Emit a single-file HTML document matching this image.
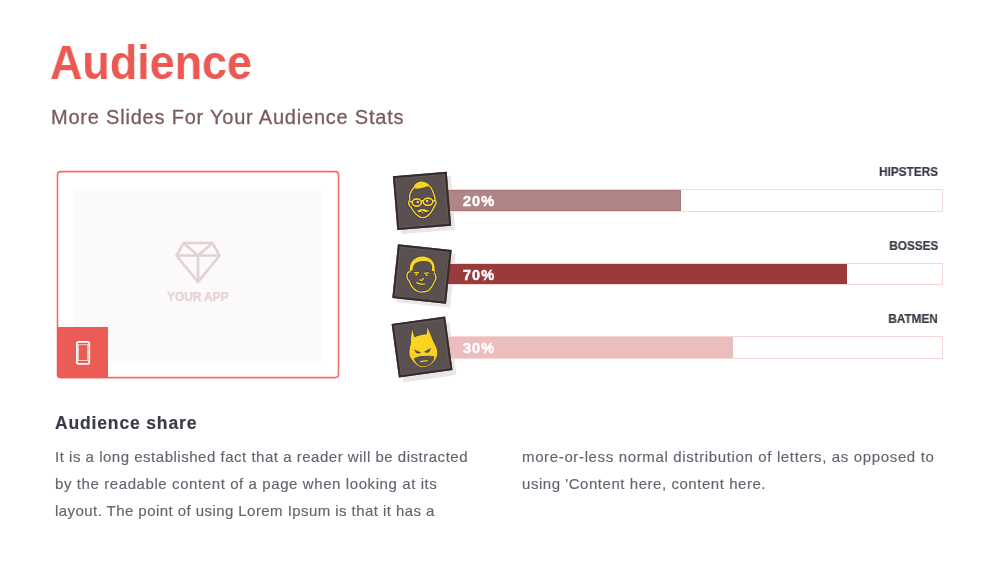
<!DOCTYPE html>
<html><head><meta charset="utf-8">
<style>
html,body{margin:0;padding:0;background:#fff;}
body{width:1000px;height:563px;position:relative;overflow:hidden;font-family:"Liberation Sans",sans-serif;}
.t,.p,.lbl,.pct{will-change:transform;}
.t{position:absolute;white-space:nowrap;line-height:1;}
#title{left:50px;top:37.8px;font-size:48.5px;font-weight:bold;color:#ec5952;transform:scaleX(0.925);transform-origin:0 0;}
#sub{left:51px;top:106.5px;font-size:20px;color:#7a5c5b;letter-spacing:0.79px;-webkit-text-stroke:0.3px #7a5c5b;}
#frame{position:absolute;left:57px;top:171px;width:279px;height:204px;border:1.5px solid #ee6b67;border-radius:3px;}
#inner{position:absolute;left:74px;top:189px;width:247.5px;height:171.5px;background:#fbf9f9;}
#redsq{position:absolute;left:57px;top:327px;width:51px;height:51px;background:#eb5c57;border-bottom-left-radius:3px;}
#yourapp{left:166.9px;top:291px;font-size:12px;font-weight:bold;color:#e5d2d2;letter-spacing:-0.1px;-webkit-text-stroke:0.25px #e5d2d2;}
.lbl{position:absolute;font-size:12.8px;font-weight:bold;color:#363a45;-webkit-text-stroke:0.2px #363a45;white-space:nowrap;line-height:1;right:62px;transform:scaleX(0.92);transform-origin:100% 0;}
.bar{position:absolute;left:440px;width:500.6px;height:20.5px;border:1px solid #f6d6d6;background:#fff;}
.fill{position:absolute;left:0;top:0;bottom:0;}
.pct{position:absolute;left:462.8px;font-size:14.5px;font-weight:bold;color:#fff;letter-spacing:1.0px;-webkit-text-stroke:0.45px #fff;line-height:1;white-space:nowrap;}
.av{position:absolute;width:49.5px;height:49.5px;background:#5b5050;border:2px solid #342c2c;box-shadow:inset 0 0 0 1px #655a5a;}
.sh{position:absolute;width:53.5px;height:53.5px;background:#ebe5e5;}
.face{position:absolute;overflow:visible;}
.face .o *{fill:none;stroke:#2d2a55;stroke-width:2.5;}
.face .o .f{fill:#2d2a55;stroke-width:0.8;}
.face .y *{fill:none;stroke:#f9d41e;stroke-width:1.45;}
.face .y .f{fill:#f9d41e;stroke:none;}
.face .y .g{stroke-width:1.7;}
.face .o .g{stroke-width:2.7;}
#h2{left:55px;top:415px;font-size:17.5px;font-weight:bold;color:#393d47;-webkit-text-stroke:0.2px #393d47;letter-spacing:0.85px;}
.p{position:absolute;font-size:15px;color:#62656f;-webkit-text-stroke:0.15px #62656f;white-space:nowrap;line-height:1;letter-spacing:0.5px;}
</style></head><body>
<div id="title" class="t">Audience</div>
<div id="sub" class="t">More Slides For Your Audience Stats</div>

<svg style="position:absolute;left:0;top:0" width="400" height="400"><rect x="57.5" y="171.6" width="281" height="206" rx="3" fill="none" stroke="#ef6e6a" stroke-width="1.6"/></svg>
<div id="inner"></div>
<svg style="position:absolute;left:170px;top:236px" width="56" height="52" viewBox="0 0 56 52">
  <g fill="none" stroke="#e4d1d1" stroke-width="2.6" stroke-linejoin="miter">
    <path d="M13.5 7 L42.5 7 L49.5 19.5 L28 46 L6.5 19.5 Z"/>
    <path d="M6.5 19.5 L49.5 19.5"/>
    <path d="M13.5 7 L28 19.5 L42.5 7"/>
    <path d="M28 19.5 L28 46"/>
  </g>
</svg>
<div id="yourapp" class="t">YOUR APP</div>
<div id="redsq"></div>
<svg style="position:absolute;left:74px;top:339px" width="18" height="27" viewBox="0 0 18 27">
  <rect x="2.9" y="2.9" width="12.3" height="22" rx="1.6" fill="none" stroke="#fff" stroke-width="1.8"/>
  <rect x="4.4" y="5.7" width="9.3" height="15.9" fill="none" stroke="#fff" stroke-opacity="0.8" stroke-width="0.8"/>
</svg>

<div class="lbl" style="top:166px">HIPSTERS</div>
<div class="lbl" style="top:239.5px">BOSSES</div>
<div class="lbl" style="top:313px">BATMEN</div>

<div class="sh" style="left:399px;top:178px;transform:rotate(-4.7deg)"></div>
<div class="sh" style="left:399px;top:251px;transform:rotate(6deg)"></div>
<div class="sh" style="left:399px;top:324.5px;transform:rotate(-7.8deg)"></div>
<div class="bar" style="top:189px"><div class="fill" style="width:240px;background:#b08585;box-shadow:inset 0 0 0 1px #a67474"></div></div>
<div class="bar" style="top:262.5px"><div class="fill" style="width:406px;background:#9a3a3a"></div></div>
<div class="bar" style="top:336px"><div class="fill" style="width:292px;background:#ebbdbd"></div></div>

<div class="pct" style="top:194.1px">20%</div>
<div class="pct" style="top:267.6px">70%</div>
<div class="pct" style="top:341.1px">30%</div>

<!-- avatars -->
<div class="av" style="left:394.85px;top:173.65px;transform:rotate(-4.7deg)"></div>
<svg class="face" style="left:396.6px;top:175.4px" width="50" height="50" viewBox="0 0 50 50">
 <g class="o">
  <path class="f" d="M16.6 12.8 C16.6 11.3 17.5 9.5 18.9 8.5 C20.5 7.3 22 6.7 23.5 6.5 C25 6.3 26.5 6.8 28.7 7.4 C30 7.8 31.2 8.6 31.9 9.5 C32.6 10.3 33.1 11 33.2 11.8 C31 11.5 29.5 11.6 28.7 11.9 C27 12.3 25.5 12.8 24.8 13 C23 13.5 21.5 13.9 20.1 13.8 C18.8 13.7 17.6 13.3 16.6 12.8 Z"/>
  <path d="M17 12.6 C15.8 13.7 14.8 15 14.3 16.3 C13.5 17.8 12.9 19 12.7 20.2 C12.5 22 12.6 23.5 12.7 25.3 C11.8 25.8 11.6 27 11.7 28.3 C11.8 30 12.6 31.6 14.2 32.2 C15 34 15.8 35.5 16.9 36.7 C18.2 38.5 19.6 40 21.2 40.9 C22.6 41.9 24 42.6 25.5 42.6 C27.5 42.6 29.2 41.9 30.6 40.9 C32.5 39.5 33.8 38 34.8 36.2 C35.8 34.5 36.7 32.8 37.4 31.1 C38.4 30.3 39.1 29 39.1 27.7 C39.1 26.5 38.9 25.6 38.1 25 C38 22.5 37.6 21 36.9 19.4 C36.3 17.6 35.7 16.2 35.2 15 C34.5 13.5 33.8 12.4 33 11.5"/>
  <ellipse class="g" cx="19.8" cy="27.5" rx="4.6" ry="3.6"/>
  <ellipse class="g" cx="31" cy="26.7" rx="4.8" ry="3.6"/>
  <path d="M24.3 26.4 Q25.2 25.2 26.3 26 M15.3 27 L12.8 26.6 M35.8 26.2 L38.3 25.8 M25.6 36.7 L25.6 38"/>
  <path class="f" d="M19.5 35.3 C20.3 36.9 22 37.5 23.5 36.9 C24.5 36.5 25 36 25.7 35.6 C26.5 36 27 36.5 28 36.9 C29.5 37.4 31.5 36.9 32.3 35 C31.3 35.5 30 35.4 29 34.7 C28 33.9 26.8 33.6 25.7 34.3 C24.6 33.6 23.4 33.9 22.4 34.7 C21.4 35.4 20.4 35.6 19.5 35.3 Z"/>
 </g>
 <g class="y">
  <path class="f" d="M16.6 12.8 C16.6 11.3 17.5 9.5 18.9 8.5 C20.5 7.3 22 6.7 23.5 6.5 C25 6.3 26.5 6.8 28.7 7.4 C30 7.8 31.2 8.6 31.9 9.5 C32.6 10.3 33.1 11 33.2 11.8 C31 11.5 29.5 11.6 28.7 11.9 C27 12.3 25.5 12.8 24.8 13 C23 13.5 21.5 13.9 20.1 13.8 C18.8 13.7 17.6 13.3 16.6 12.8 Z"/>
  <path d="M17 12.6 C15.8 13.7 14.8 15 14.3 16.3 C13.5 17.8 12.9 19 12.7 20.2 C12.5 22 12.6 23.5 12.7 25.3 C11.8 25.8 11.6 27 11.7 28.3 C11.8 30 12.6 31.6 14.2 32.2 C15 34 15.8 35.5 16.9 36.7 C18.2 38.5 19.6 40 21.2 40.9 C22.6 41.9 24 42.6 25.5 42.6 C27.5 42.6 29.2 41.9 30.6 40.9 C32.5 39.5 33.8 38 34.8 36.2 C35.8 34.5 36.7 32.8 37.4 31.1 C38.4 30.3 39.1 29 39.1 27.7 C39.1 26.5 38.9 25.6 38.1 25 C38 22.5 37.6 21 36.9 19.4 C36.3 17.6 35.7 16.2 35.2 15 C34.5 13.5 33.8 12.4 33 11.5"/>
  <ellipse class="g" cx="19.8" cy="27.5" rx="4.6" ry="3.6"/>
  <ellipse class="g" cx="31" cy="26.7" rx="4.8" ry="3.6"/>
  <path d="M24.3 26.4 Q25.2 25.2 26.3 26 M15.3 27 L12.8 26.6 M35.8 26.2 L38.3 25.8 M25.6 36.7 L25.6 38"/>
  <path class="f" d="M19.5 35.3 C20.3 36.9 22 37.5 23.5 36.9 C24.5 36.5 25 36 25.7 35.6 C26.5 36 27 36.5 28 36.9 C29.5 37.4 31.5 36.9 32.3 35 C31.3 35.5 30 35.4 29 34.7 C28 33.9 26.8 33.6 25.7 34.3 C24.6 33.6 23.4 33.9 22.4 34.7 C21.4 35.4 20.4 35.6 19.5 35.3 Z"/>
  <circle class="f" cx="20.8" cy="26.9" r="1.25"/><circle class="f" cx="30.1" cy="26" r="1.25"/>
 </g>
</svg>

<div class="av" style="left:395.15px;top:246.95px;transform:rotate(6deg)"></div>
<svg class="face" style="left:396.9px;top:248.7px" width="50" height="50" viewBox="0 0 50 50">
 <g class="o">
  <path class="f" d="M12.8 23 C12.5 20 12.8 17 13.6 15 C14.8 12 16.5 10.2 18.3 9.5 C20.5 8.2 23 7.6 25.3 7.6 C28 7.6 30.5 8.3 32.3 9.2 C34.8 10.8 36.5 12.8 37 15 C37.7 17.5 37.9 20 37.8 23 C36.8 22.5 35.5 22 34.7 21.5 C35 19.5 35.2 18 35 17 C34.2 15 33.5 14 32.3 13.1 C30.5 12.2 28.3 11.8 26.1 11.9 C23.5 12 21.5 12.5 19.8 13.5 C18 14.5 16.8 15.8 16.3 17.4 C15.9 18.6 15.7 20 15.5 21.3 C14.5 21.7 13.5 22.3 12.8 23 Z"/>
  <path d="M13 22.5 C11.5 23 10.6 23.5 10.4 24.4 C10 25.5 9.9 27 10.1 28.3 C10.3 29.8 11 31 12 31.4 C13 34 13.8 36 15.1 37.7 C17 40.5 20 43.1 23.7 43.1 C26.5 43.1 29.5 42.5 31.5 41.6 C33.5 40 35 38 36.2 35.3 C36.8 33.5 37.5 32 38.6 30.6 C38.9 29.5 39 28 38.6 26.7 C38.3 25.3 37.8 24.2 37 23.6"/>
  <path d="M17.1 23.9 Q19.5 23 21.8 24 M27.2 24.5 Q29.8 23.5 32.3 24.1 M22.6 30.3 Q23.5 31.8 24.8 31.2 Q26 30.5 26.5 29.1 M19.4 33.4 Q23 36.2 28 34.9"/>
 </g>
 <g class="y">
  <path class="f" d="M12.8 23 C12.5 20 12.8 17 13.6 15 C14.8 12 16.5 10.2 18.3 9.5 C20.5 8.2 23 7.6 25.3 7.6 C28 7.6 30.5 8.3 32.3 9.2 C34.8 10.8 36.5 12.8 37 15 C37.7 17.5 37.9 20 37.8 23 C36.8 22.5 35.5 22 34.7 21.5 C35 19.5 35.2 18 35 17 C34.2 15 33.5 14 32.3 13.1 C30.5 12.2 28.3 11.8 26.1 11.9 C23.5 12 21.5 12.5 19.8 13.5 C18 14.5 16.8 15.8 16.3 17.4 C15.9 18.6 15.7 20 15.5 21.3 C14.5 21.7 13.5 22.3 12.8 23 Z"/>
  <path d="M13 22.5 C11.5 23 10.6 23.5 10.4 24.4 C10 25.5 9.9 27 10.1 28.3 C10.3 29.8 11 31 12 31.4 C13 34 13.8 36 15.1 37.7 C17 40.5 20 43.1 23.7 43.1 C26.5 43.1 29.5 42.5 31.5 41.6 C33.5 40 35 38 36.2 35.3 C36.8 33.5 37.5 32 38.6 30.6 C38.9 29.5 39 28 38.6 26.7 C38.3 25.3 37.8 24.2 37 23.6"/>
  <path d="M17.1 23.9 Q19.5 23 21.8 24 M27.2 24.5 Q29.8 23.5 32.3 24.1 M22.6 30.3 Q23.5 31.8 24.8 31.2 Q26 30.5 26.5 29.1 M19.4 33.4 Q23 36.2 28 34.9"/>
  <circle class="f" cx="19.4" cy="25.6" r="1"/><circle class="f" cx="29.6" cy="26" r="1"/>
 </g>
</svg>

<div class="av" style="left:394.75px;top:319.8px;transform:rotate(-7.8deg)"></div>
<svg class="face" style="left:396.5px;top:321.8px" width="50" height="50" viewBox="0 0 50 50">
 <path fill="#f8d31f" stroke="#2d2a55" stroke-width="0.7" d="M15 5.2 L13.6 15.3 C13.4 18 13.6 20 13.4 21.7 C12.3 25 11.8 29 12 31.9 C12.3 34.5 13.5 36.5 15.2 38.5 C17.5 42 21.5 45.6 25.8 45.6 C30.2 45.6 35 42.5 37.1 39.5 C39.5 37 40.8 34 40.8 31 C40.7 28 39.8 25.5 38.8 23.6 C36.5 19.5 35 15 33.5 11.6 L30.2 3.6 L29.3 12 C26.5 12 25 12.3 23.3 12.9 C21 13.3 19 14 17.7 14.8 Z"/>
 <path fill="#5b5050" stroke="#2d2a55" stroke-width="0.6" d="M17.3 36.5 C20 35.5 23.5 34 27 34.4 C30 34 34 34.2 37 34.7 C36.5 40 31.5 44 26.3 44 C21.5 44 18.3 40.5 17.3 36.5 Z"/>
 <path fill="#5b5050" stroke="#2d2a55" stroke-width="0.4" d="M17.4 27.9 L23.5 30.4 L22.5 31.2 L19.5 31 Z M33.7 26.5 L27.8 29.5 L28.6 30.5 L31.8 30.2 Z"/>
 <path fill="none" stroke="#f8d31f" stroke-width="1.1" d="M23.3 39.6 L30.7 38.6"/>
</svg>

<div id="h2" class="t">Audience share</div>
<div class="p" style="left:55px;top:449px;letter-spacing:0.516px">It is a long established fact that a reader will be distracted</div>
<div class="p" style="left:55px;top:476px;letter-spacing:0.592px">by the readable content of a page when looking at its</div>
<div class="p" style="left:55px;top:503px;letter-spacing:0.438px">layout. The point of using Lorem Ipsum is that it has a</div>
<div class="p" style="left:522px;top:449px;letter-spacing:0.643px">more-or-less normal distribution of letters, as opposed to</div>
<div class="p" style="left:522px;top:476px;letter-spacing:0.545px">using 'Content here, content here.</div>
</body></html>
